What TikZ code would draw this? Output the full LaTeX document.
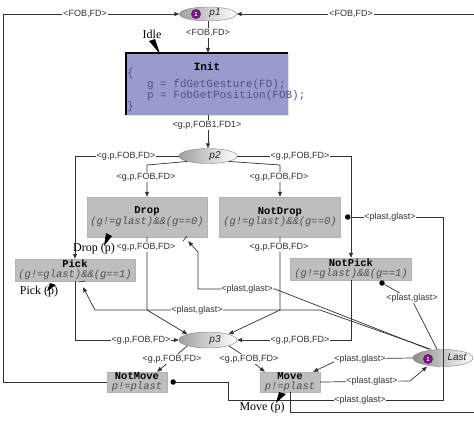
\documentclass[tikz,border=0pt]{standalone}
\usepackage{fontspec}
\setmainfont{Liberation Serif}
\setsansfont{Liberation Sans}
\setmonofont{Liberation Mono}
\usetikzlibrary{shapes.geometric,arrows.meta,calc}
\definecolor{initfill}{RGB}{154,154,204}
\definecolor{trfill}{RGB}{190,190,190}
\definecolor{arcc}{RGB}{50,50,50}
\definecolor{tokc}{RGB}{120,20,130}
\definecolor{codec}{RGB}{80,80,135}
\definecolor{condc}{RGB}{80,80,80}
\begin{document}
\begin{tikzpicture}[x=1pt,y=-1pt,
 place/.style={ellipse,draw=gray,left color=gray!75,right color=white,minimum width=58pt,minimum height=15pt,inner sep=0},
 trans/.style={rectangle,fill=trfill,draw=gray!60,inner sep=0,align=center,font=\fontsize{10.5}{9.5}\selectfont\ttfamily},
 arc/.style={draw=arcc,line width=0.7pt},
 arr/.style={arc,-{Triangle[length=5pt,width=4pt]}},
 lab/.style={fill=white,inner sep=0.8pt,font=\fontsize{9}{9}\selectfont\sffamily,text=arcc},
 dot/.style={circle,fill=black,inner sep=0,minimum size=5.5pt},
 token/.style={circle,fill=tokc,inner sep=0,minimum size=10pt,text=white,font=\fontsize{6}{6}\selectfont\sffamily\bfseries},
 pname/.style={font=\fontsize{10}{10}\selectfont\sffamily\itshape,text=gray!30!black,inner sep=0},
 aux/.style={font=\fontsize{12}{12}\selectfont,inner sep=0},
 code/.style={font=\fontsize{11}{9.4}\selectfont\ttfamily,text=codec,inner sep=0,anchor=north west,align=left},
 wedge/.style={fill=black}
]
\useasboundingbox (0,0) rectangle (474,440);
\fill[white] (0,0) rectangle (474,440);

% places
\node[place,minimum width=57pt,minimum height=14pt] (p1) at (208,14) {};
\node[place] (p2) at (208,156) {};
\node[place,minimum height=16pt] (p3) at (208,340) {};
\node[place,left color=gray!90,minimum width=60pt,minimum height=17pt] (last) at (443,358) {};

% transitions
\node[rectangle,fill=initfill,minimum width=162pt,minimum height=62pt,inner sep=0] (init) at (207,84) {};
\draw[gray!25,line width=1.4pt] (init.north east) -- (init.south east) -- (init.south west);
\draw[black,line width=1.8pt] (init.south west) -- (init.north west) -- (init.north east);
\node[font=\fontsize{11}{11}\selectfont\ttfamily\bfseries,inner sep=0] (inittitle) at (207,67) {Init};
\node[code] (code) at (127,68) {\{\\\phantom{xxx}g = fdGetGesture(FD);\\\phantom{xxx}p = FobGetPosition(FOB);\\\}};

\node[trans,minimum width=120pt,minimum height=40pt] (drop) at (147,217)
  {\textbf{Drop}\\\textcolor{condc}{\itshape (g!=glast)\&\&(g==0)}};
\node[trans,minimum width=121pt,minimum height=40pt] (ndrop) at (280,217)
  {\textbf{NotDrop}\\\textcolor{condc}{\itshape (g!=glast)\&\&(g==0)}};
\node[trans,minimum width=120pt,minimum height=22pt] (pick) at (75,270)
  {\textbf{Pick}\\\textcolor{condc}{\itshape (g!=glast)\&\&(g==1)}};
\node[trans,minimum width=121pt,minimum height=22pt] (npick) at (351,269)
  {\textbf{NotPick}\\\textcolor{condc}{\itshape (g!=glast)\&\&(g==1)}};
\node[trans,minimum width=60pt,minimum height=20pt] (nmove) at (137,382)
  {\textbf{NotMove}\\\textcolor{condc}{\itshape p!=plast}};
\node[trans,minimum width=60pt,minimum height=20pt] (move) at (290,382)
  {\textbf{Move}\\\textcolor{condc}{\itshape p!=plast}};

% dots
\node[dot] (dot1) at ([xshift=7pt]ndrop.east) {};
\node[dot] (dot2) at (382,283) {};
\node[dot] (dot3) at ([xshift=6pt]nmove.east) {};

% arcs
\draw[arr] (nmove.west) -- (3,382) -- (3,14) -- (p1.west);
\draw[arr] (move.south) -- (290,412) -- (490,412) -- (490,14) -- (p1.east);
\draw[arr] (p1.south) -- (p1.south |- init.north);
\draw[arr] (init.south -| p2.north) -- (p2.north);
\draw[arr] (p2.west) -| (pick.north);
\draw[arr] (p2.east) -| (npick.north);
\draw[arr] (p2.south west) -- (147,165) -- (drop.north);
\draw[arr] (p2.south east) -- (280,165) -- (ndrop.north);
\draw[arr] (drop.south) -- (147,310) -- (p3.north west);
\draw[arr] (ndrop.south) -- (280,310) -- (p3.north east);
\draw[arr] (pick.south) |- (p3.west);
\draw[arr] (npick.south) |- (p3.east);
\draw[arr] (p3.south west) -- (172,359) -- ([xshift=-10pt]nmove.north east);
\draw[arr] (p3.south east) -- (249,359) -- ([xshift=5pt]move.north west);
\draw[arr] (last.west) -- (340,359) -- ([xshift=-7pt]move.north east);
\draw[arr] (move.east) -- (410,381) -- ([xshift=-16pt]last.south);
\draw[arr] ([xshift=-14pt]last.north) -- (275,289) -- (198,289) -- (198,252) -- ([xshift=-19pt,yshift=-4pt]drop.south east);
\draw[arr] ([xshift=-12pt]last.north) -- (320,310) -- (95,310) -- ([xshift=8pt,yshift=-6pt]pick.south);
\draw[arc] ([xshift=-6pt]last.north) -- (412,300) -- (dot2);
\draw[arc] (dot1) -- (443,217) -- (443,400) -- (228,400) -- (228,382) -- (dot3);
\draw[arc] (183,241) -- (187,236);
\draw[arc] (79,282) -- (85,281);

% arc labels
\node[lab] (l1) at (85,14) {<FOB,FD>};
\node[lab] (l2) at (351,14) {<FOB,FD>};
\node[lab] (l3) at (208,33) {<FOB,FD>};
\node[lab] (l4) at (207,125) {<g,p,FOB1,FD1>};
\node[lab] (l5) at (126,156) {<g,p,FOB,FD>};
\node[lab] (l6) at (300,156) {<g,p,FOB,FD>};
\node[lab] (l7) at (146,177) {<g,p,FOB,FD>};
\node[lab] (l8) at (279,177) {<g,p,FOB,FD>};
\node[lab] (l9) at (146,247) {<g,p,FOB,FD>};
\node[lab] (l10) at (279,247) {<g,p,FOB,FD>};
\node[lab] (l11) at (390,217) {<plast,glast>};
\node[lab] (l12) at (247,289) {<plast,glast>};
\node[lab] (l13) at (197,310) {<plast,glast>};
\node[lab] (l14) at (412,298) {<plast,glast>};
\node[lab] (l15) at (141,340) {<g,p,FOB,FD>};
\node[lab] (l16) at (300,340) {<g,p,FOB,FD>};
\node[lab] (l17) at (172,359) {<g,p,FOB,FD>};
\node[lab] (l18) at (249,359) {<g,p,FOB,FD>};
\node[lab] (l19) at (360,359) {<plast,glast>};
\node[lab] (l20) at (372,381) {<plast,glast>};
\node[lab] (l21) at (360,400) {<plast,glast>};

% tokens and place names
\node[token] (t1) at (196,14) {1};
\node[pname] (n1) at (215,13) {p1};
\node[pname] (n2) at (215,156) {p2};
\node[pname] (n3) at (215,340) {p3};
\node[token] (t2) at (428,359) {1};
\node[pname] (n4) at (457,357) {Last};

% auxiliary labels
\node[aux] (idle) at (152,34) {Idle};
\fill[wedge] (149,41) -- (155,39) -- (160,54) -- cycle;
\node[aux] (dropp) at (94,249) {Drop (p)};
\fill[wedge] (106,233) -- (112,236) -- (104,246) -- cycle;
\node[aux] (pickp) at (39,292) {Pick (p)};
\fill[wedge] (50,283) -- (56,285) -- (47,291) -- cycle;
\node[aux] (movep) at (262,408) {Move (p)};
\fill[wedge] (279,392) -- (286,394) -- (276,403) -- cycle;
\end{tikzpicture}
\end{document}
